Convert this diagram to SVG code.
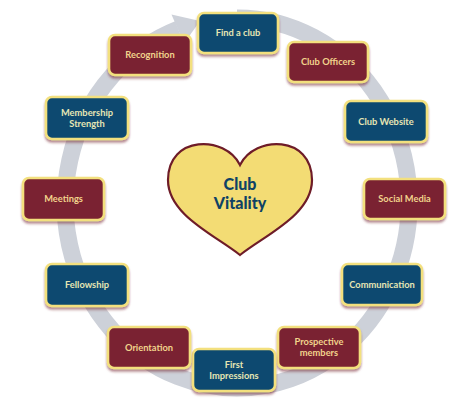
<svg xmlns="http://www.w3.org/2000/svg" width="474" height="409" viewBox="0 0 474 409">
<defs>
<filter id="sh" x="-20%" y="-20%" width="140%" height="150%">
<feDropShadow dx="0" dy="2.5" stdDeviation="1.2" flood-color="#7a2535" flood-opacity="0.55"/>
</filter>
</defs>
<style>
.box rect{stroke:#f3e07e;stroke-width:2.6;filter:url(#sh)}
.blue rect{fill:#0d4a6f}
.red rect{fill:#7a2231}
text{font-family:Lato,"Open Sans","DejaVu Sans",sans-serif;font-weight:bold;font-size:9.3px;text-anchor:middle}
.blue text{fill:#e6e6b4}
.red text{fill:#f1d38c}
.ring{fill:none;stroke:#cdd1d9;stroke-width:17}
</style>
<rect width="474" height="409" fill="#ffffff"/>
<g id="connectors">
<path class="ring" d="M 237 18 A 172 185 0 1 1 178.2 29.2"/>
<polygon points="200,21 184,43.5 171.5,14.5" fill="#cdd1d9"/>
</g>
<g id="heart">
<path d="M 240 165 C 225 135, 168 135, 168 180 C 168 215, 215 235, 240 255 C 265 235, 312 215, 312 180 C 312 135, 255 135, 240 165 Z" fill="#f3dc74" stroke="#6e1c28" stroke-width="2.2"/>
<text x="240" y="190" style="font-size:16px;font-weight:900;fill:#0e4265">Club</text>
<text x="240" y="209" style="font-size:16px;font-weight:900;fill:#0e4265">Vitality</text>
</g>
<g id="find-a-club" class="box blue"><rect x="198" y="13" width="80" height="40" rx="6"/><text x="238" y="36">Find a club</text></g>
<g id="club-officers" class="box red"><rect x="288" y="42" width="80" height="40" rx="6"/><text x="328" y="65">Club Officers</text></g>
<g id="club-website" class="box blue"><rect x="345" y="101" width="82" height="41" rx="6"/><text x="386" y="124.5">Club Website</text></g>
<g id="social-media" class="box red"><rect x="364" y="179" width="81" height="40" rx="6"/><text x="404.5" y="202">Social Media</text></g>
<g id="communication" class="box blue"><rect x="342" y="264" width="80" height="41" rx="6"/><text x="382" y="287.5">Communication</text></g>
<g id="prospective-members" class="box red"><rect x="278" y="327" width="82" height="41" rx="6"/><text x="319" y="345">Prospective</text><text x="319" y="356">members</text></g>
<g id="first-impressions" class="box blue"><rect x="193" y="349" width="82" height="42" rx="6"/><text x="234" y="367.5">First</text><text x="234" y="378.5">Impressions</text></g>
<g id="orientation" class="box red"><rect x="108" y="327" width="82" height="41" rx="6"/><text x="149" y="350.5">Orientation</text></g>
<g id="fellowship" class="box blue"><rect x="46" y="264" width="82" height="42" rx="6"/><text x="87" y="288">Fellowship</text></g>
<g id="meetings" class="box red"><rect x="23" y="178" width="81" height="42" rx="6"/><text x="63.5" y="202">Meetings</text></g>
<g id="membership-strength" class="box blue"><rect x="46" y="97" width="82" height="42" rx="6"/><text x="87" y="115.5">Membership</text><text x="87" y="126.5">Strength</text></g>
<g id="recognition" class="box red"><rect x="109" y="35" width="82" height="40" rx="6"/><text x="150" y="58">Recognition</text></g>
</svg>
